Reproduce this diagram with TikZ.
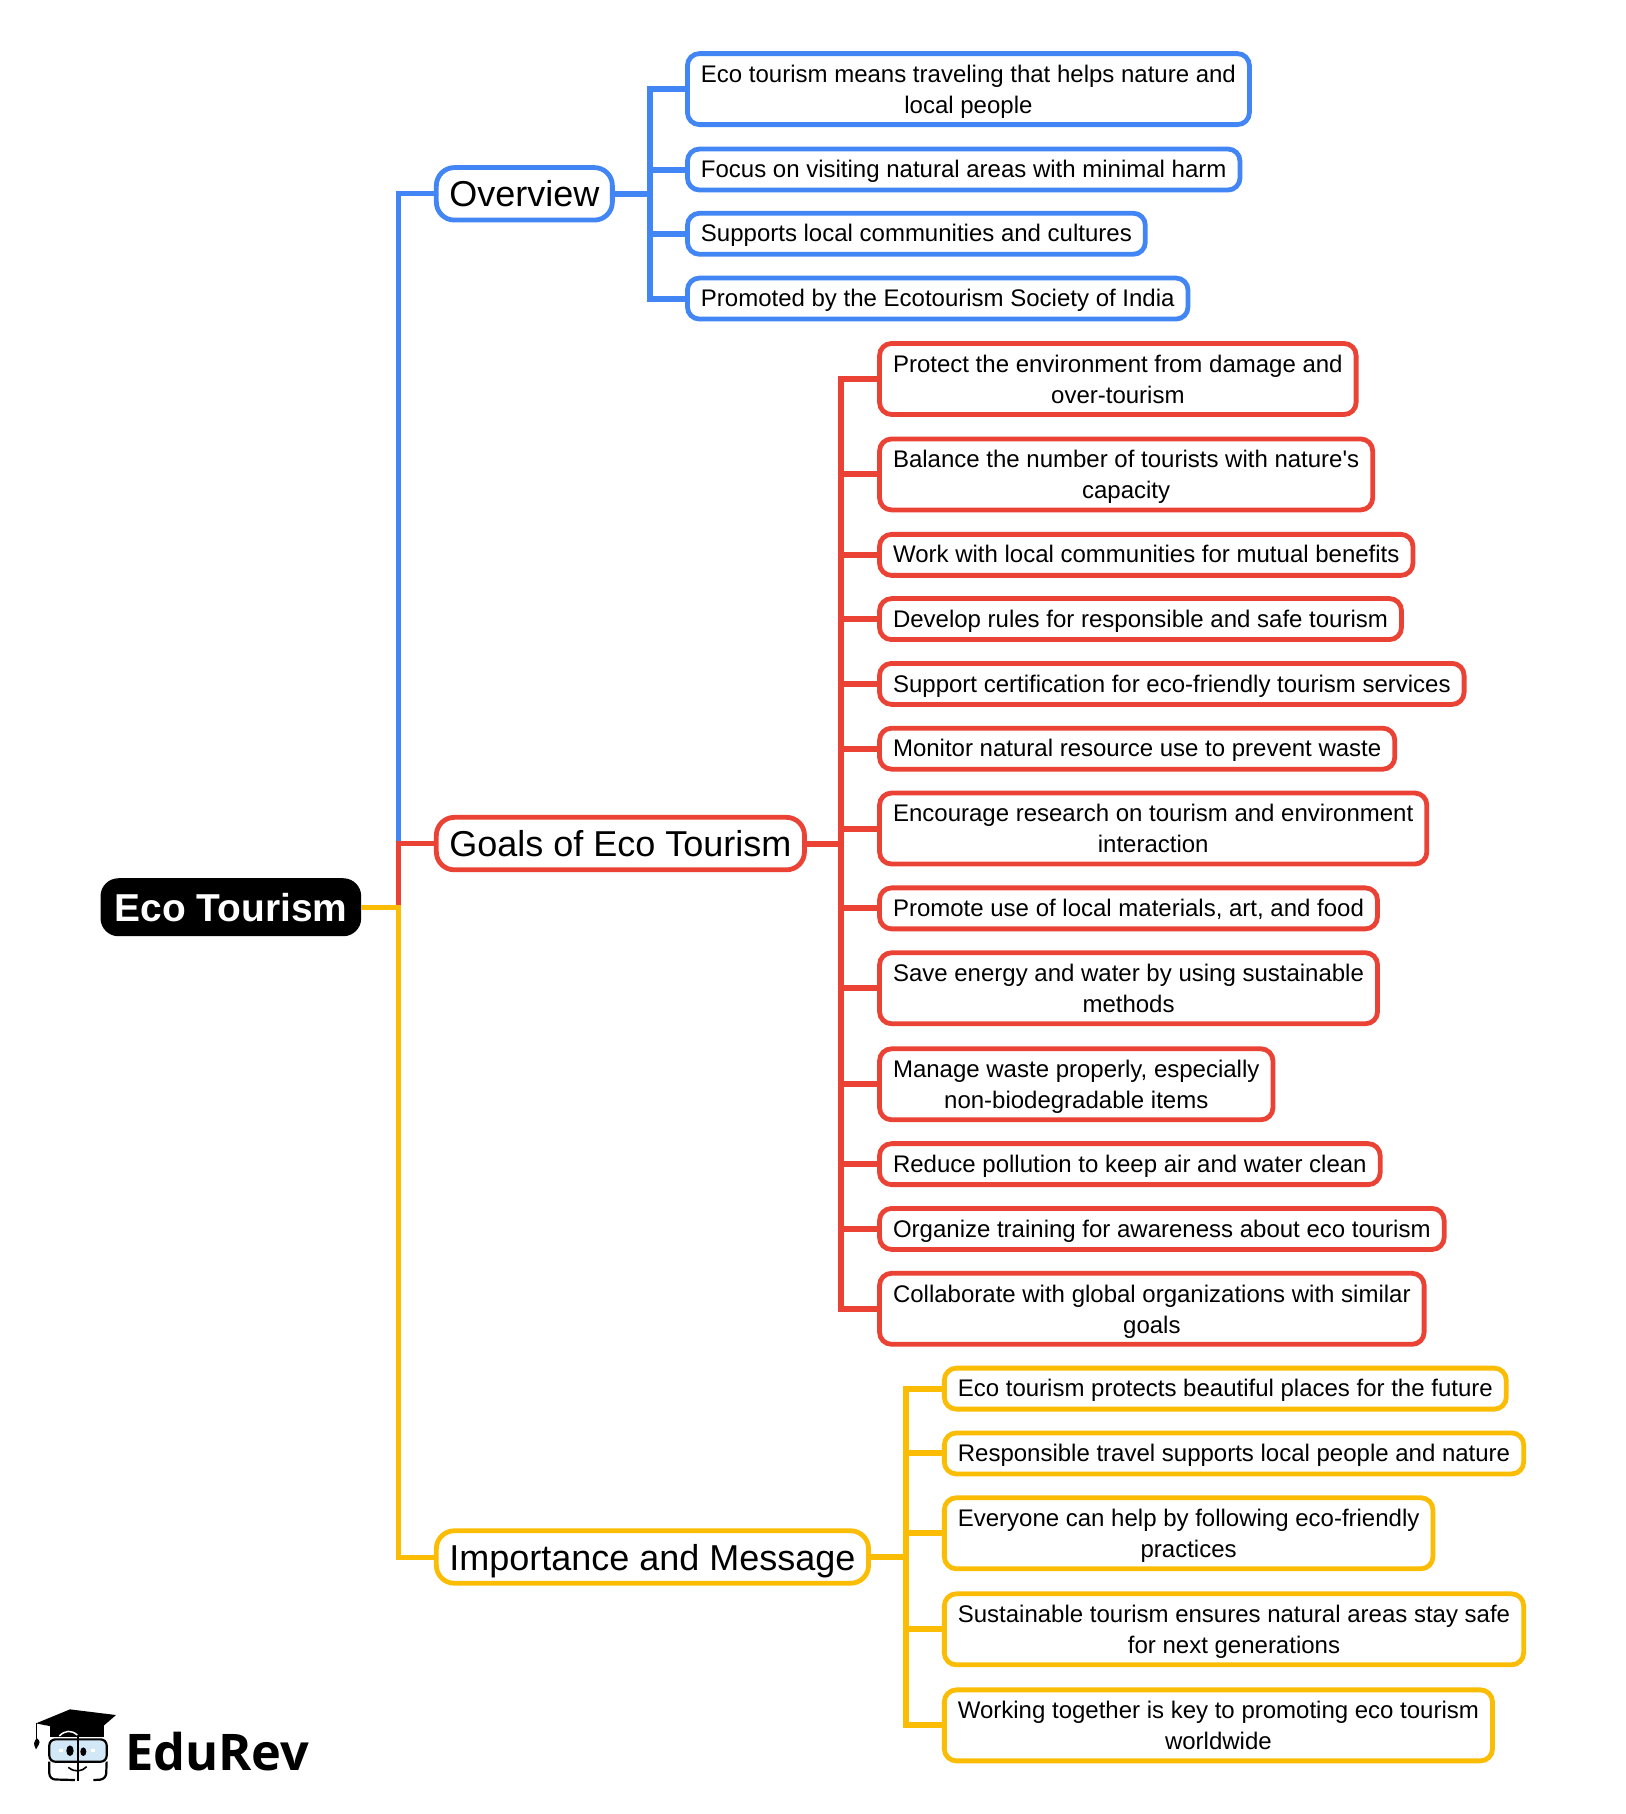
\documentclass[tikz,border=0pt]{standalone}
\usepackage{fontspec}
\setmainfont{Liberation Sans}
\newfontfamily\logofont{Open Sans}
\definecolor{mapblue}{HTML}{4285F4}
\definecolor{mapred}{HTML}{EA4335}
\definecolor{mapyellow}{HTML}{FBBC04}
\definecolor{glassblue}{HTML}{D3E8F7}
\newcommand{\tworow}[2]{\rule{0pt}{27pt}#1\\\strut #2}
\tikzset{
	rootbox/.style={
		fill=black,
		text=white,
		rounded corners=18pt,
		inner xsep=14pt,
		inner ysep=0pt,
		minimum height=58pt,
		font=\fontsize{38.9}{46}\selectfont\bfseries
	},
	branchbox/.style={
		draw=#1,
		line width=4.8pt,
		rounded corners=18pt,
		inner xsep=13pt,
		inner ysep=0pt,
		minimum height=52.5pt,
		text height=26pt,
		text depth=0pt,
		anchor=west,
		font=\fontsize{36}{42}\selectfont
	},
	leafbox/.style={
		draw=#1,
		line width=4.8pt,
		rounded corners=12pt,
		inner xsep=13.5pt,
		inner ysep=0pt,
		minimum height=41pt,
		anchor=west,
		align=center,
		execute at begin node={\rule{0pt}{25.5pt}\strut},
		font=\fontsize{24}{31}\selectfont
	},
	tallbox/.style={
		leafbox=#1,
		minimum height=71pt
	},
	mainlink/.style={
		draw=#1,
		line width=5pt
	},
	leaflink/.style={
		draw=#1,
		line width=6pt
	}
}
\begin{document}
\begin{tikzpicture}[
	x=1.1572pt,
	y=-1.1572pt
]
	\useasboundingbox (0,0) rectangle (1405,1567.6);
	% root
	\node[rootbox] (root) at (199.5,784) {Eco Tourism};
	\coordinate (trunk) at (344,784);
	% branches
	\node[branchbox=mapblue] (over) at (375,167.5) {Overview};
	\node[branchbox=mapred] (goals) at (375,729) {Goals of Eco Tourism};
	\node[branchbox=mapyellow] (msg) at (375,1345.5) {Importance and Message};
	\coordinate (overbus) at (562,167.5);
	\coordinate (goalsbus) at (727,729);
	\coordinate (msgbus) at (783,1345.5);
	% overview leaves
	\node[tallbox=mapblue] (overA) at (592,77) {\tworow{Eco tourism means traveling that helps nature and}{local people}};
	\node[leafbox=mapblue] (overB) at (592,146.5) {Focus on visiting natural areas with minimal harm};
	\node[leafbox=mapblue] (overC) at (592,202) {Supports local communities and cultures};
	\node[leafbox=mapblue] (overD) at (592,258) {Promoted by the Ecotourism Society of India};
	% goal leaves
	\node[tallbox=mapred] (goalA) at (758,327.5) {\tworow{Protect the environment from damage and}{over-tourism}};
	\node[tallbox=mapred] (goalB) at (758,410) {\tworow{Balance the number of tourists with nature\textquotesingle s}{capacity}};
	\node[leafbox=mapred] (goalC) at (758,479.5) {Work with local communities for mutual benefits};
	\node[leafbox=mapred] (goalD) at (758,535) {Develop rules for responsible and safe tourism};
	\node[leafbox=mapred] (goalE) at (758,591) {Support certification for eco-friendly tourism services};
	\node[leafbox=mapred] (goalF) at (758,647) {Monitor natural resource use to prevent waste};
	\node[tallbox=mapred] (goalG) at (758,716) {\tworow{Encourage research on tourism and environment}{interaction}};
	\node[leafbox=mapred] (goalH) at (758,785) {Promote use of local materials, art, and food};
	\node[tallbox=mapred] (goalI) at (758,854) {\tworow{Save energy and water by using sustainable}{methods}};
	\node[tallbox=mapred] (goalJ) at (758,937) {\tworow{Manage waste properly, especially}{non-biodegradable items}};
	\node[leafbox=mapred] (goalK) at (758,1006) {Reduce pollution to keep air and water clean};
	\node[leafbox=mapred] (goalL) at (758,1062) {Organize training for awareness about eco tourism};
	\node[tallbox=mapred] (goalM) at (758,1131) {\tworow{Collaborate with global organizations with similar}{goals}};
	% message leaves
	\node[leafbox=mapyellow] (msgA) at (814,1200) {Eco tourism protects beautiful places for the future};
	\node[leafbox=mapyellow] (msgB) at (814,1256) {Responsible travel supports local people and nature};
	\node[tallbox=mapyellow] (msgC) at (814,1325) {\tworow{Everyone can help by following eco-friendly}{practices}};
	\node[tallbox=mapyellow] (msgD) at (814,1408) {\tworow{Sustainable tourism ensures natural areas stay safe}{for next generations}};
	\node[tallbox=mapyellow] (msgE) at (814,1491) {\tworow{Working together is key to promoting eco tourism}{worldwide}};
	% connectors
	\draw[mainlink=mapblue] (trunk) |- (over.west);
	\draw[mainlink=mapred] (trunk) |- (goals.west);
	\draw[mainlink=mapyellow] (root.east) -- (trunk) |- (msg.west);
	\foreach \leaf in {overA,overB,overC,overD}
		\draw[leaflink=mapblue] (over.east) -- (overbus) |- (\leaf.west);
	\foreach \leaf in {goalA,goalB,goalC,goalD,goalE,goalF,goalG,goalH,goalI,goalJ,goalK,goalL,goalM}
		\draw[leaflink=mapred] (goals.east) -- (goalsbus) |- (\leaf.west);
	\foreach \leaf in {msgA,msgB,msgC,msgD,msgE}
		\draw[leaflink=mapyellow] (msg.east) -- (msgbus) |- (\leaf.west);
	% logo
	\node[
		anchor=base west,
		inner sep=0pt,
		font=\fontsize{50.5}{60}\selectfont\logofont\bfseries
	] (brand) at (108,1530) {EduRev};
	\begin{scope}[
		shift={(0,1425.9)},
		x=0.3333pt,
		y=-0.3333pt
	]
		% cap
		\fill[black] (150,225) -- (312,225) -- (312,262) -- (150,262) -- cycle;
		\draw[
			white,
			line width=1.5pt
		] (178,258) .. controls (195,240) and (215,240) .. (232,255);
		\fill[black] (108,220) -- (210,178) -- (348,195) -- (280,254) -- cycle;
		\draw[
			line width=1.5pt
		] (110,220) -- (110,272);
		\fill[black] (110,264) .. controls (122,275) .. (108,298) .. controls (100,280) .. (110,264) -- cycle;
		% glasses
		\draw[
			line width=2.2pt,
			fill=glassblue,
			rounded corners=6pt
		] (148,268) rectangle (320,335);
		\draw[
			line width=2.2pt,
			rounded corners=6pt
		] (148,335) -- (148,388) -- (225,390);
		\draw[
			line width=2.2pt,
			rounded corners=6pt
		] (320,335) -- (318,388) -- (280,390);
		\draw[
			line width=2.2pt
		] (233,262) -- (233,392);
		% eyes
		\fill[black] (210,302) ellipse (11 and 16);
		\fill[black] (250,305) ellipse (9 and 13);
		\fill[white] (178,296) rectangle (190,305);
		\fill[white] (272,296) rectangle (284,305);
		% smile
		\draw[
			line width=1.6pt
		] (205,352) .. controls (225,368) and (245,365) .. (260,350);
	\end{scope}
\end{tikzpicture}
\end{document}
